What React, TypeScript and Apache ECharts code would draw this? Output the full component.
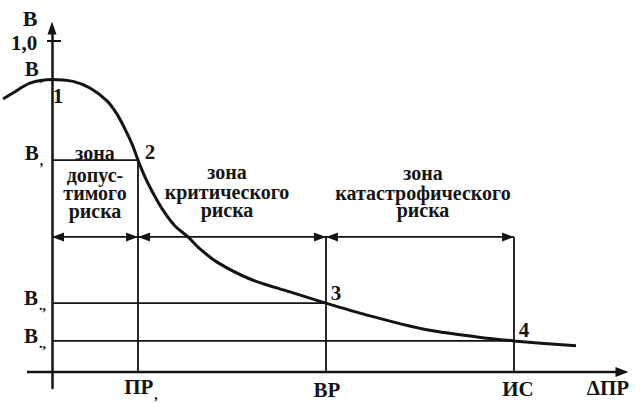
import React, { useEffect, useRef } from "react";
import * as echarts from "echarts";

// ---- data ----
const curveX = [-49, -39, -22, 0, 21, 38, 55, 65, 73, 80, 86, 93, 101, 111, 123, 136, 148, 165, 198, 238, 274, 315, 371, 425, 462, 524];
const curveY = [0.825, 0.843, 0.873, 0.884, 0.878, 0.858, 0.819, 0.779, 0.734, 0.689, 0.64, 0.589, 0.541, 0.489, 0.441, 0.408, 0.372, 0.332, 0.281, 0.242, 0.208, 0.172, 0.13, 0.106, 0.094, 0.079];

const levelMain = ["В", "В", "В", "В"];
const levelSub = [",", ",", ".,", ".,"];
const levelValues = [0.884, 0.64, 0.208, 0.094];

const pointNames = ["1", "2", "3", "4"];

const thresholdMain = ["ПР", "ВР", "ИС"];
const thresholdSub = [",", "", ""];
const thresholdValues = [86, 274, 462];

const arrowLevel = 0.408;

const zoneLines = [
  ["зона", "допус-", "тимого", "риска"],
  ["зона", "критического", "риска"],
  ["зона", "катастрофического", "риска"],
];

const yTickValue = 1.0;
const yTickLabel = "1,0";
const yAxisName = "В";
const xAxisName = "ΔПР";

const xAxisStart = -25;
const xRange = [-50, 570];
const yRange = [-0.0483, 1.0393];

// ---- styles ----
const FONT = "Liberation Serif";
const INK = "#141414";
const LEFT_ARROW = "path://M0,5L12,0L12,10Z";
const RIGHT_ARROW = "path://M12,5L0,0L0,10Z";

export default function App() {
  const ref = useRef<HTMLDivElement>(null);

  useEffect(() => {
    document.body.style.margin = "0";
    if (!ref.current) return;
    const chart = echarts.init(ref.current, null, { renderer: "svg" });

    const seg = (pts: number[][], width = 1.8) => ({
      type: "line",
      data: pts,
      symbol: "none",
      lineStyle: { color: INK, width },
      silent: true,
      clip: false,
      z: 3,
    });

    const zoneBounds = [
      [0, thresholdValues[0]],
      [thresholdValues[0], thresholdValues[1]],
      [thresholdValues[1], thresholdValues[2]],
    ];
    const vTops = [levelValues[1], arrowLevel, arrowLevel];

    const hLines = thresholdValues.map((t, i) =>
      seg([
        [0, levelValues[i + 1]],
        [t, levelValues[i + 1]],
      ])
    );
    const vLines = thresholdValues.map((t, i) =>
      seg([
        [t, 0],
        [t, vTops[i]],
      ])
    );
    const arrowSegs = zoneBounds.map(([a, b]) => ({
      type: "line",
      symbol: LEFT_ARROW,
      symbolSize: [12, 9],
      showSymbol: true,
      itemStyle: { color: INK },
      lineStyle: { color: INK, width: 1.8 },
      silent: true,
      clip: false,
      z: 3,
      data: [
        { value: [a, arrowLevel], symbol: LEFT_ARROW, symbolOffset: [6, 0] },
        { value: [b, arrowLevel], symbol: RIGHT_ARROW, symbolOffset: [-6, 0] },
      ],
    }));

    const xAxisLine = {
      type: "line",
      symbol: "none",
      showSymbol: true,
      itemStyle: { color: INK },
      lineStyle: { color: INK, width: 2.5 },
      silent: true,
      clip: false,
      z: 4,
      data: [
        { value: [xAxisStart, 0], symbol: "none" },
        { value: [xRange[1], 0], symbol: RIGHT_ARROW, symbolSize: [13, 10] },
      ],
    };

    const yTick = seg(
      [
        [-5, yTickValue],
        [9, yTickValue],
      ],
      2
    );

    const option: any = {
      animation: false,
      backgroundColor: "#ffffff",
      grid: { left: 2, right: 18, top: 28, bottom: 15 },
      xAxis: {
        type: "value",
        min: xRange[0],
        max: xRange[1],
        axisLine: { show: false },
        axisTick: { show: false },
        axisLabel: { show: false },
        splitLine: { show: false },
      },
      yAxis: {
        type: "value",
        min: yRange[0],
        max: yRange[1],
        axisLine: {
          onZero: true,
          symbol: ["none", "triangle"],
          symbolSize: [9, 13],
          lineStyle: { color: INK, width: 2.5 },
        },
        axisTick: { show: false },
        axisLabel: { show: false },
        splitLine: { show: false },
      },
      series: [
        xAxisLine,
        ...hLines,
        ...vLines,
        ...arrowSegs,
        yTick,
        {
          type: "line",
          data: curveX.map((x, i) => [x, curveY[i]]),
          smooth: 0.3,
          symbol: "none",
          lineStyle: { color: INK, width: 3 },
          silent: true,
          clip: false,
          z: 5,
        },
      ],
    };

    chart.setOption(option);

    // ---- texts, placed through the chart's own scales ----
    const px = (x: number, y: number) => chart.convertToPixel({ gridIndex: 0 }, [x, y]) as number[];
    const base = (size: number) => ({ fontFamily: FONT, fontWeight: "bold", fontSize: size, fill: INK });
    const T = (x: number, y: number, dx: number, dy: number, text: string, size = 20, extra: any = {}) => {
      const p = px(x, y);
      return {
        type: "text",
        x: p[0] + dx,
        y: p[1] + dy,
        silent: true,
        z: 20,
        style: { text, ...base(size), align: "center", verticalAlign: "middle", ...extra },
      };
    };
    const subRich = {
      m: { ...base(21) },
      s: { ...base(14), verticalAlign: "bottom", padding: [0, 0, -4, 1] },
    };

    const levelOffsets = [
      [-18, -10],
      [-18, -7],
      [-17, -5],
      [-17, -5],
    ];
    const pointXs = [0, ...thresholdValues];
    const pointOffsets = [
      [6, 17],
      [12, -8],
      [10, -10],
      [10, -11],
    ];
    const thrOffsets = [
      [3, 15],
      [1, 18],
      [4, 17],
    ];
    const zoneDx = [0, -5, 3];
    const zoneDy = [
      [-84, -62, -44, -26],
      [-65, -45, -27],
      [-64, -44, -27],
    ];

    const texts: any[] = [];
    levelValues.forEach((v, i) =>
      texts.push(T(0, v, levelOffsets[i][0], levelOffsets[i][1], `{m|${levelMain[i]}}{s|${levelSub[i]}}`, 21, { rich: subRich }))
    );
    pointXs.forEach((x, i) => texts.push(T(x, levelValues[i], pointOffsets[i][0], pointOffsets[i][1], pointNames[i], 21)));
    thresholdValues.forEach((t, i) =>
      texts.push(
        T(
          t,
          0,
          thrOffsets[i][0],
          thrOffsets[i][1],
          thresholdSub[i] ? `{m|${thresholdMain[i]}}{s|${thresholdSub[i]}}` : `{m|${thresholdMain[i]}}`,
          21,
          { rich: subRich }
        )
      )
    );
    zoneBounds.forEach(([a, b], i) =>
      zoneLines[i].forEach((line, j) =>
        texts.push(T((a + b) / 2, arrowLevel, zoneDx[i], zoneDy[i][j], line, 20, { lineHeight: 16 }))
      )
    );
    texts.push(T(0, yTickValue, -28, 2, yTickLabel, 21));
    texts.push(T(0, yRange[1], -22, -10, yAxisName, 22));
    texts.push(T(xRange[1], 0, -14, 16, xAxisName, 21));

    chart.setOption({ graphic: texts });
    return () => chart.dispose();
  }, []);

  return <div ref={ref} style={{ width: 640, height: 403 }} />;
}
